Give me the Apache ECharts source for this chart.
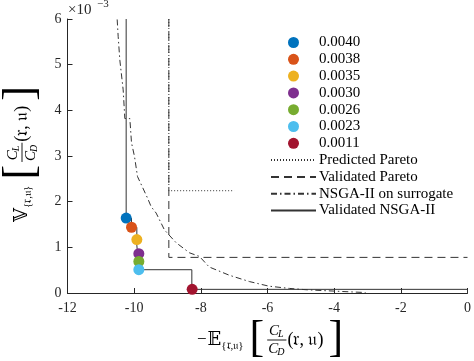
<!DOCTYPE html>
<html><head><meta charset="utf-8">
<script src="https://cdn.jsdelivr.net/npm/echarts@6/dist/echarts.min.js"></script>
<style>html,body{margin:0;padding:0;background:#fff}#c{width:474px;height:361px}</style>
</head><body><div id="c"></div>
<script>
// values in units of 1e-3 on y
const dotNames = ['0.0040','0.0038','0.0035','0.0030','0.0026','0.0023','0.0011'];
const dotColors = ['#0072BD','#D95319','#EDB120','#7E2F8E','#77AC30','#4DBEEE','#A2142F'];
const dotX = [-10.24,-10.08,-9.92,-9.86,-9.86,-9.86,-8.26];
const dotY = [1.64,1.44,1.17,0.86,0.69,0.51,0.08];

const predX = [-8.96,-8.96,-7.0];
const predY = [6.0,2.24,2.24];

const valParX = [-8.96,-8.96,0];
const valParY = [6.0,0.78,0.78];

const surX = [-10.51,-10.48,-10.43,-10.33,-10.28,-10.13,-10.08,-9.99,-9.90,-9.74,-9.60,-9.49,-9.34,-9.09,-8.74,-8.34,-8.04,-7.75,-7.15,-6.54,-5.96,-5.34,-4.81,-3.96,-3.06];
const surY = [5.99,5.62,5.10,4.45,3.82,3.82,3.29,2.99,2.55,2.30,2.08,1.89,1.75,1.38,1.10,0.88,0.80,0.57,0.39,0.25,0.15,0.10,0.07,0.04,0.01];

const nsgaX = [-10.24,-10.24,-10.08,-10.08,-9.92,-9.92,-9.86,-9.86,-8.27,-8.27,0,0];
const nsgaY = [6.0,1.64,1.64,1.44,1.44,1.05,1.05,0.51,0.51,0.08,0.08,0];

const lineNames = ['Predicted Pareto','Validated Pareto','NSGA-II on surrogate','Validated NSGA-II'];

const xMin = -12, xMax = 0, xStep = 2;
const yMin = 0, yMax = 6, yStep = 1;

const zip = (a,b) => a.map((v,i)=>[v,b[i]]);
const FONT = '"Liberation Serif", "DejaVu Serif", serif';
const LC = '#333333';

const cv = document.createElement('canvas').getContext('2d');
function measure(t, size, italic){ cv.font = (italic?'italic ':'') + size + 'px ' + FONT; return cv.measureText(t).width; }

function buildLabel(first){
  const els = [];
  let x = 0;
  function put(t, size, dy, italic){ const w = measure(t,size,italic); els.push({type:'text', x:x, y:dy, style:{text:t, font:(italic?'italic ':'')+size+'px '+FONT, fill:'#000', verticalAlign:'middle'}}); x += w; return w; }
  first.forEach(p=>{ x += (p[4]||0); put(p[0],p[1],p[2],p[3]); });
  x += 6;
  put('[', 44, -1, false);
  x += 3;
  const fx = x;
  const cs = 15, ss = 10;
  const w1 = measure('C',cs,true)+measure('L',ss,true);
  const w2 = measure('C',cs,true)+measure('D',ss,true);
  const fw = Math.max(w1,w2)+2;
  let xx = fx + (fw-w1)/2;
  els.push({type:'text', x:xx, y:-9, style:{text:'C', font:'italic '+cs+'px '+FONT, fill:'#000', verticalAlign:'middle'}});
  els.push({type:'text', x:xx+measure('C',cs,true)-1, y:-6, style:{text:'L', font:'italic '+ss+'px '+FONT, fill:'#000', verticalAlign:'middle'}});
  xx = fx + (fw-w2)/2;
  els.push({type:'text', x:xx, y:9, style:{text:'C', font:'italic '+cs+'px '+FONT, fill:'#000', verticalAlign:'middle'}});
  els.push({type:'text', x:xx+measure('C',cs,true)-1, y:12, style:{text:'D', font:'italic '+ss+'px '+FONT, fill:'#000', verticalAlign:'middle'}});
  els.push({type:'line', shape:{x1:fx, y1:0, x2:fx+fw, y2:0}, style:{stroke:'#000', lineWidth:0.9}});
  x = fx + fw + 1;
  put('(\u{1D52F}, \u{1D532})', 18, 0, false);
  x += 5;
  put(']', 44, -1, false);
  const total = x;
  els.forEach(e=>{ if(e.type==='text') e.x -= total/2; else { e.shape.x1 -= total/2; e.shape.x2 -= total/2; } });
  return els;
}

const series = [
  {name:lineNames[0], type:'line', data:zip(predX,predY), symbol:'none', lineStyle:{color:LC, width:1, type:[1,2]}, itemStyle:{color:LC}, z:2},
  {name:lineNames[1], type:'line', data:zip(valParX,valParY), symbol:'none', lineStyle:{color:LC, width:1, type:[8,5]}, itemStyle:{color:LC}, z:2},
  {name:lineNames[2], type:'line', data:zip(surX,surY), symbol:'none', lineStyle:{color:LC, width:1, type:[6,3,1.5,3]}, itemStyle:{color:LC}, z:2},
  {name:lineNames[3], type:'line', data:zip(nsgaX,nsgaY), symbol:'none', lineStyle:{color:LC, width:1, type:'solid'}, itemStyle:{color:LC}, z:2}
];
dotNames.forEach((n,i)=>{
  series.push({name:n, type:'scatter', data:[[dotX[i],dotY[i]]], symbol:'circle', symbolSize:11, itemStyle:{color:dotColors[i], opacity:1}, z:5});
});

const legendData = dotNames.map(n=>({name:n})).concat(lineNames.map(n=>({name:n, itemStyle:{opacity:0, borderWidth:0}})));

const chart = echarts.init(document.getElementById('c'), null, {renderer:'canvas'});
chart.setOption({
  animation:false,
  backgroundColor:'#fff',
  grid:{left:67.5, right:4, top:19, bottom:68, containLabel:false},
  xAxis:{type:'value', min:xMin, max:xMax, interval:xStep,
    axisLine:{show:true, onZero:false, lineStyle:{color:'#262626', width:1}},
    axisTick:{show:true, inside:true, length:5, lineStyle:{color:'#262626'}},
    axisLabel:{color:'#262626', fontFamily:FONT, fontSize:14, margin:8},
    splitLine:{show:false}},
  yAxis:{type:'value', min:yMin, max:yMax, interval:yStep,
    axisLine:{show:true, onZero:false, lineStyle:{color:'#262626', width:1}},
    axisTick:{show:true, inside:true, length:5, lineStyle:{color:'#262626'}},
    axisLabel:{color:'#262626', fontFamily:FONT, fontSize:14, margin:6},
    splitLine:{show:false}},
  legend:{orient:'vertical', left:265, top:30, itemWidth:45, itemHeight:11, itemGap:1.8,
    data:legendData,
    textStyle:{fontFamily:FONT, fontSize:15, color:'#000', padding:[0,0,0,-2]},
    selectedMode:false},
  series:series,
  graphic:[
    {type:'group', x:270, y:340, children:buildLabel([['\u2212',17,0,false],['\u{1D53C}',18,0,false,1],['{\u{1D52F},\u{1D532}}',11,6,false]])},
    {type:'group', x:22, y:154, rotation:Math.PI/2, children:buildLabel([['\u{1D54D}',18,0,false],['{\u{1D52F},\u{1D532}}',11,6,false]])},
    {type:'text', left:68, top:3, style:{text:'\u00D710', font:'15px '+FONT, fill:'#262626'}},
    {type:'text', left:97, top:-1, style:{text:'\u22123', font:'11px '+FONT, fill:'#262626'}}
  ]
});
</script></body></html>
